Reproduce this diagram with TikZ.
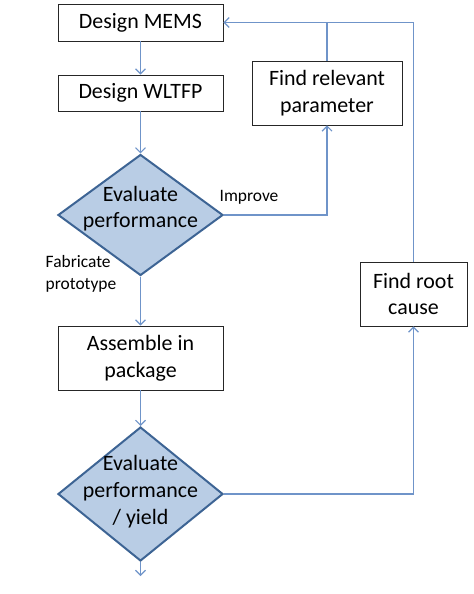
\documentclass[tikz,border=0pt]{standalone}
\usepackage{fontspec}
\setmainfont{Carlito}
\usetikzlibrary{arrows.meta,shapes.geometric}
\definecolor{conn}{HTML}{6F94C9}
\definecolor{dfill}{HTML}{B9CDE5}
\definecolor{dline}{HTML}{3D6494}
\begin{document}
\begin{tikzpicture}[x=1bp,y=-1bp,
  box/.style={draw=black!85, line width=0.9bp, minimum width=165bp, inner sep=0, align=center, font=\fontsize{22}{27}\selectfont},
  dec/.style={diamond, draw=dline, line width=2bp, fill=dfill, minimum width=165bp, inner sep=0},
  dtext/.style={align=center, inner sep=0, font=\fontsize{22}{26}\selectfont},
  lbl/.style={align=left, inner sep=0, font=\fontsize{17.5}{22}\selectfont},
  conline/.style={draw=conn, line width=1.1bp},
  arr/.style={conline, -{Straight Barb[length=5bp,width=10bp]}}]
\useasboundingbox (0,0) rectangle (474,594);
\node[box, minimum height=37bp] (mems) at (140.5,22.5) {Design MEMS};
\node[box, minimum height=36bp] (wltfp) at (140.5,93) {Design WLTFP};
\node[box, minimum width=150bp, minimum height=64bp] (frp) at (327,93) {Find relevant\\parameter};
\node[dec, minimum height=121bp] (d1) at (140.5,215) {};
\node[dtext] (d1t) at (140.5,209) {Evaluate\\performance};
\node[lbl] (imp) at (249,197) {Improve};
\node[lbl] (fab) at (81,274) {Fabricate\\prototype};
\node[box, minimum height=64bp] (asm) at (140.5,358) {Assemble in\\package};
\node[box, minimum width=107bp, minimum height=64bp] (frc) at (413.5,294) {Find root\\cause};
\node[dec, minimum height=134bp] (d2) at (140.5,494) {};
\node[dtext, font=\fontsize{22}{27}\selectfont] (d2t) at (140.5,492) {Evaluate\\performance\\/ yield};
\coordinate (end) at (140.5,576);
\draw[arr] (mems) -- (wltfp);
\draw[arr] (wltfp) -- (d1);
\draw[arr] (d1.east) -| (frp.south);
\draw[conline] (frp.north) -- (frp.north |- mems.east);
\draw[arr] (frc.north) |- (mems.east);
\draw[arr] (d1) -- (asm);
\draw[arr] (asm) -- (d2);
\draw[arr] (d2.east) -| (frc.south);
\draw[arr] (d2.south) -- (end);
\end{tikzpicture}
\end{document}
